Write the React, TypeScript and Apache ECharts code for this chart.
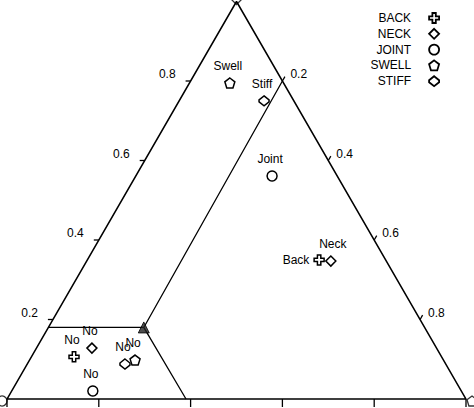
import React, { useEffect, useRef } from "react";
import * as echarts from "echarts";

const H = Math.sqrt(3) / 2;
const FONT = "'Liberation Sans', Arial, Helvetica, sans-serif";

// Ternary compositions given as [top, right]; left = 1 - top - right
const seriesNames = ["BACK", "NECK", "JOINT", "SWELL", "STIFF"];
const backPoints = [[0.35, 0.505], [0.106, 0.093]];
const neckPoints = [[0.347, 0.532], [0.128, 0.121]];
const jointPoints = [[0.561, 0.297], [0.02, 0.177]];
const swellPoints = [[0.795, 0.088], [0.098, 0.23]];
const stiffPoints = [[0.75, 0.185], [0.088, 0.213]];
const backLabels = ["Back", "No"];
const neckLabels = ["Neck", "No"];
const jointLabels = ["Joint", "No"];
const swellLabels = ["Swell", "No"];
const stiffLabels = ["Stiff", "No"];

const tickValues = [0.2, 0.4, 0.6, 0.8];
const tickLabels = ["0.2", "0.4", "0.6", "0.8"];
const bottomTickValues = [0, 0.2, 0.4, 0.6, 0.8, 1];

const outline = [[0, 0], [0, 1], [1, 0], [0, 0]];
const boundaryLine = [[0.8, 0.2], [0.18, 0.208], [0, 0.39]];
const horizontalLine = [[0.18, 0], [0.18, 0.208]];
const triangleMark = [[0.18, 0.208]];
const vertexPoints = [[1, 0], [0, 0], [0, 1]];

const toXY = (p: number[]) => [p[1] + p[0] / 2, p[0] * H];

const PLUS = "path://M3.3,0 H6.7 V3.3 H10 V6.7 H6.7 V10 H3.3 V6.7 H0 V3.3 H3.3 Z";
const PENTA = "path://M5,0 L10,3.8 L8.1,10 L1.9,10 L0,3.8 Z";
const HEXA = "path://M5,0 L10,4 L10,6 L5,10 L0,6 L0,4 Z";

export default function App() {
  const ref = useRef<HTMLDivElement>(null);
  useEffect(() => {
    document.body.style.margin = "0";
    if (!ref.current) return;
    const chart = echarts.init(ref.current, undefined, { renderer: "svg" });

    const pointSets = [backPoints, neckPoints, jointPoints, swellPoints, stiffPoints];
    const labelSets = [backLabels, neckLabels, jointLabels, swellLabels, stiffLabels];
    const symbols = [PLUS, "diamond", "circle", PENTA, HEXA];

    const pointSeries = seriesNames.map((name, si) => ({
      name,
      type: "scatter",
      symbol: symbols[si],
      symbolSize: 10,
      clip: false,
      itemStyle: { color: "#fff", borderColor: "#000", borderWidth: 1.5, opacity: 1 },
      label: {
        show: true,
        position: "top",
        distance: 5,
        formatter: "{b}",
        fontSize: 12,
        fontFamily: FONT,
        color: "#000",
        offset: [-2, 0],
      },
      data: pointSets[si].map((p, i) => {
        const nm = labelSets[si][i];
        const item: any = { name: nm, value: toXY(p) };
        if (nm === "Back") item.label = { position: "left", distance: 4, offset: [0, 0] };
        if (nm === "Neck") item.label = { offset: [2, 0] };
        return item;
      }),
      z: 5,
    }));

    const tickSeries = (data: number[][], kind: number) => ({
      type: "custom",
      clip: false,
      silent: true,
      data,
      renderItem: (params: any, api: any) => {
        const c = api.coord([api.value(0), api.value(1)]);
        const lbl = kind === 2 ? "" : tickLabels[params.dataIndex];
        let line: any;
        let text: any = null;
        if (kind === 0) {
          line = { x1: c[0], y1: c[1], x2: c[0] - 5, y2: c[1] };
          text = { x: c[0] - 15, y: c[1] - 7, align: "right" };
        } else if (kind === 1) {
          line = { x1: c[0], y1: c[1], x2: c[0] + 2.5, y2: c[1] - 4.3 };
          text = { x: c[0] + 8, y: c[1] - 7, align: "left" };
        } else {
          line = { x1: c[0], y1: c[1], x2: c[0], y2: c[1] + 8 };
        }
        const children: any[] = [
          { type: "line", shape: line, style: { stroke: "#000", lineWidth: 1.3 } },
        ];
        if (text) {
          children.push({
            type: "text",
            x: text.x,
            y: text.y,
            style: {
              text: lbl,
              align: text.align,
              verticalAlign: "middle",
              fontSize: 12,
              fontFamily: FONT,
              fill: "#000",
            },
          });
        }
        return { type: "group", children };
      },
    });

    const lineSeries = (data: number[][], width: number) => ({
      type: "line",
      data: data.map(toXY),
      symbol: "none",
      clip: false,
      silent: true,
      lineStyle: { color: "#000", width },
      z: 2,
    });

    chart.setOption({
      animation: false,
      grid: { left: 7, top: 1.5, width: 459, height: 397.5 },
      xAxis: { type: "value", min: 0, max: 1, show: false },
      yAxis: { type: "value", min: 0, max: H, show: false },
      legend: {
        data: seriesNames,
        orient: "vertical",
        align: "right",
        right: 34,
        top: 12,
        padding: 0,
        itemWidth: 10,
        itemHeight: 10,
        itemGap: 3.8,
        itemStyle: { borderWidth: 1.8 },
        textStyle: {
          fontSize: 12,
          fontFamily: FONT,
          color: "#000",
          lineHeight: 12,
          padding: [0, 13, 0, 0],
        },
        selectedMode: false,
      },
      series: [
        lineSeries(outline, 1.5),
        lineSeries(boundaryLine, 1.3),
        lineSeries(horizontalLine, 1.3),
        tickSeries(tickValues.map((v) => toXY([v, 0])), 0),
        tickSeries(tickValues.map((v) => toXY([1 - v, v])), 1),
        tickSeries(bottomTickValues.map((v) => toXY([0, v])), 2),
        {
          type: "scatter",
          symbol: "triangle",
          symbolSize: 11,
          clip: false,
          silent: true,
          itemStyle: { color: "#222", borderColor: "#000", borderWidth: 1 },
          data: triangleMark.map(toXY),
          z: 4,
        },
        {
          type: "scatter",
          clip: false,
          silent: true,
          symbolSize: 10,
          itemStyle: { color: "#fff", borderColor: "#000", borderWidth: 1.3 },
          data: vertexPoints.map((p, i) => ({
            value: toXY(p),
            symbol: ["diamond", "circle", PENTA][i],
            symbolOffset: [[0, -2], [-5, 2], [6, 2]][i],
          })),
          z: 1,
        },
        ...pointSeries,
      ],
    });
    return () => chart.dispose();
  }, []);
  return <div ref={ref} style={{ width: 474, height: 408 }} />;
}
